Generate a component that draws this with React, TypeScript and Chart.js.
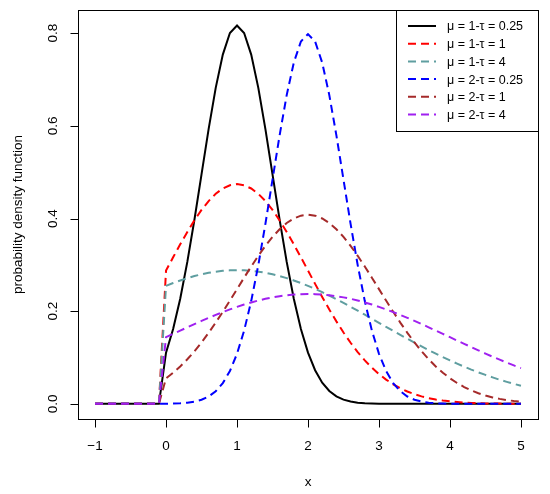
import React, { useEffect, useRef } from "react";
import { Chart, registerables } from "chart.js";

Chart.register(...registerables);

const xValues = [
  -1, -0.9, -0.8, -0.7, -0.6, -0.5, -0.4, -0.3, -0.2, -0.1,
  0, 0.1, 0.2, 0.3, 0.4, 0.5, 0.6, 0.7, 0.8, 0.9,
  1, 1.1, 1.2, 1.3, 1.4, 1.5, 1.6, 1.7, 1.8, 1.9,
  2, 2.1, 2.2, 2.3, 2.4, 2.5, 2.6, 2.7, 2.8, 2.9,
  3, 3.1, 3.2, 3.3, 3.4, 3.5, 3.6, 3.7, 3.8, 3.9,
  4, 4.1, 4.2, 4.3, 4.4, 4.5, 4.6, 4.7, 4.8, 4.9,
  5,
];

const mu1Tau025 = [
  0, 0, 0, 0, 0, 0, 0, 0, 0, 0,
  0.1105, 0.1616, 0.227, 0.3064, 0.3974, 0.4952, 0.5929, 0.682, 0.7537, 0.8003,
  0.8165, 0.8003, 0.7537, 0.682, 0.5929, 0.4952, 0.3974, 0.3064, 0.227, 0.1616,
  0.1105, 0.0726, 0.0458, 0.0278, 0.0162, 0.0091, 0.0049, 0.0025, 0.0012, 0.0006,
  0.0003, 0.0001, 0, 0, 0, 0, 0, 0, 0, 0,
  0, 0, 0, 0, 0, 0, 0, 0, 0, 0,
  0,
];

const mu1Tau1 = [
  0, 0, 0, 0, 0, 0, 0, 0, 0, 0,
  0.2876, 0.3163, 0.3443, 0.3711, 0.3961, 0.4185, 0.4377, 0.4533, 0.4648, 0.4718,
  0.4742, 0.4718, 0.4648, 0.4533, 0.4377, 0.4185, 0.3961, 0.3711, 0.3443, 0.3163,
  0.2876, 0.2589, 0.2308, 0.2037, 0.178, 0.1539, 0.1318, 0.1118, 0.0938, 0.078,
  0.0642, 0.0523, 0.0422, 0.0337, 0.0266, 0.0208, 0.0161, 0.0124, 0.0094, 0.0071,
  0.0053, 0.0039, 0.0028, 0.002, 0.0015, 0.001, 0.0007, 0.0005, 0.0003, 0.0002,
  0.0002,
];

const mu1Tau4 = [
  0, 0, 0, 0, 0, 0, 0, 0, 0, 0,
  0.2546, 0.2607, 0.2663, 0.2713, 0.2758, 0.2796, 0.2828, 0.2853, 0.287, 0.2881,
  0.2885, 0.2881, 0.287, 0.2853, 0.2828, 0.2796, 0.2758, 0.2713, 0.2663, 0.2607,
  0.2546, 0.248, 0.241, 0.2335, 0.2258, 0.2178, 0.2095, 0.201, 0.1924, 0.1837,
  0.175, 0.1662, 0.1575, 0.1489, 0.1404, 0.1321, 0.1239, 0.116, 0.1083, 0.1008,
  0.0937, 0.0868, 0.0802, 0.0739, 0.068, 0.0624, 0.0571, 0.0521, 0.0475, 0.0431,
  0.039,
];

const mu2Tau025 = [
  0, 0, 0, 0, 0, 0, 0, 0, 0, 0,
  0.0003, 0.0006, 0.0012, 0.0025, 0.0048, 0.0089, 0.0158, 0.0272, 0.0448, 0.0709,
  0.108, 0.1579, 0.2218, 0.2995, 0.3884, 0.4839, 0.5794, 0.6664, 0.7365, 0.7821,
  0.7979, 0.7821, 0.7365, 0.6664, 0.5794, 0.4839, 0.3884, 0.2995, 0.2218, 0.1579,
  0.108, 0.0709, 0.0448, 0.0272, 0.0158, 0.0089, 0.0048, 0.0025, 0.0012, 0.0006,
  0.0003, 0.0001, 0, 0, 0, 0, 0, 0, 0, 0,
  0,
];

const mu2Tau1 = [
  0, 0, 0, 0, 0, 0, 0, 0, 0, 0,
  0.0552, 0.0671, 0.0808, 0.0962, 0.1135, 0.1325, 0.1532, 0.1754, 0.1987, 0.2229,
  0.2476, 0.2723, 0.2964, 0.3195, 0.341, 0.3603, 0.3768, 0.3903, 0.4001, 0.4062,
  0.4082, 0.4062, 0.4001, 0.3903, 0.3768, 0.3603, 0.341, 0.3195, 0.2964, 0.2723,
  0.2476, 0.2229, 0.1987, 0.1754, 0.1532, 0.1325, 0.1135, 0.0962, 0.0808, 0.0671,
  0.0552, 0.045, 0.0363, 0.029, 0.0229, 0.0179, 0.0139, 0.0107, 0.0081, 0.0061,
  0.0045,
];

const mu2Tau4 = [
  0, 0, 0, 0, 0, 0, 0, 0, 0, 0,
  0.1438, 0.151, 0.1581, 0.1652, 0.1722, 0.179, 0.1856, 0.1919, 0.198, 0.2038,
  0.2092, 0.2143, 0.2189, 0.223, 0.2267, 0.2298, 0.2324, 0.2344, 0.2359, 0.2368,
  0.2371, 0.2368, 0.2359, 0.2344, 0.2324, 0.2298, 0.2267, 0.223, 0.2189, 0.2143,
  0.2092, 0.2038, 0.198, 0.1919, 0.1856, 0.179, 0.1722, 0.1652, 0.1581, 0.151,
  0.1438, 0.1366, 0.1295, 0.1224, 0.1154, 0.1085, 0.1018, 0.0953, 0.089, 0.0829,
  0.077,
];

const seriesLabels = [
  "μ = 1-τ = 0.25",
  "μ = 1-τ = 1",
  "μ = 1-τ = 4",
  "μ = 2-τ = 0.25",
  "μ = 2-τ = 1",
  "μ = 2-τ = 4",
];
const seriesValues = [mu1Tau025, mu1Tau1, mu1Tau4, mu2Tau025, mu2Tau1, mu2Tau4];
const seriesColors = ["#000000", "#FF0000", "#5F9EA0", "#0000FF", "#A52A2A", "#A020F0"];
const seriesDashed = [false, true, true, true, true, true];

const xTicks = [-1, 0, 1, 2, 3, 4, 5];
const xTickLabels = ["\u22121", "0", "1", "2", "3", "4", "5"];
const yTicks = [0, 0.2, 0.4, 0.6, 0.8];
const yTickLabels = ["0.0", "0.2", "0.4", "0.6", "0.8"];
const xTitle = "x";
const yTitle = "probability density function";

const FONT = "'Liberation Sans', Arial, sans-serif";
const DASH = [8, 5];

const decorPlugin = {
  id: "rDecor",
  afterDraw(chart: any) {
    const { ctx, chartArea } = chart;
    const xs = chart.scales.x;
    const ys = chart.scales.y;
    const L = Math.round(chartArea.left) + 0.5;
    const R = Math.round(chartArea.right) + 0.5;
    const T = Math.round(chartArea.top) + 0.5;
    const B = Math.round(chartArea.bottom) + 0.5;
    ctx.save();
    ctx.strokeStyle = "#000";
    ctx.lineWidth = 1;
    ctx.setLineDash([]);
    ctx.strokeRect(L, T, R - L, B - T);

    ctx.beginPath();
    xTicks.forEach((v) => {
      const px = Math.round(xs.getPixelForValue(v)) + 0.5;
      ctx.moveTo(px, B);
      ctx.lineTo(px, B + 8);
    });
    yTicks.forEach((v) => {
      const py = Math.round(ys.getPixelForValue(v)) + 0.5;
      ctx.moveTo(L, py);
      ctx.lineTo(L - 8, py);
    });
    ctx.stroke();

    ctx.fillStyle = "#000";
    ctx.font = `13.5px ${FONT}`;
    ctx.textAlign = "center";
    ctx.textBaseline = "middle";
    xTicks.forEach((v, i) => {
      const px = xs.getPixelForValue(v);
      ctx.fillText(xTickLabels[i], px, 446);
    });
    yTicks.forEach((v, i) => {
      const py = ys.getPixelForValue(v);
      ctx.save();
      ctx.translate(53, py);
      ctx.rotate(-Math.PI / 2);
      ctx.fillText(yTickLabels[i], 0, 0);
      ctx.restore();
    });
    ctx.fillText(xTitle, (chartArea.left + chartArea.right) / 2, 482);
    ctx.save();
    ctx.translate(18, (chartArea.top + chartArea.bottom) / 2);
    ctx.rotate(-Math.PI / 2);
    ctx.fillText(yTitle, 0, 0);
    ctx.restore();

    // legend
    const lx = 396.5;
    const ly = T;
    const lw = R - lx;
    const lh = 121;
    ctx.fillStyle = "#fff";
    ctx.fillRect(lx, ly, lw, lh);
    ctx.strokeStyle = "#000";
    ctx.lineWidth = 1;
    ctx.strokeRect(lx, ly, lw, lh);
    ctx.font = `12.5px ${FONT}`;
    ctx.textAlign = "left";
    ctx.textBaseline = "middle";
    seriesLabels.forEach((lab, i) => {
      const ry = 26 + i * 17.7;
      ctx.strokeStyle = seriesColors[i];
      ctx.lineWidth = 2;
      ctx.setLineDash(seriesDashed[i] ? DASH : []);
      ctx.beginPath();
      ctx.moveTo(408, ry);
      ctx.lineTo(436, ry);
      ctx.stroke();
      ctx.setLineDash([]);
      ctx.fillStyle = "#000";
      ctx.fillText(lab, 447, ry + 1);
    });
    ctx.restore();
  },
};

export default function App() {
  const ref = useRef<HTMLCanvasElement | null>(null);
  useEffect(() => {
    document.body.style.margin = "0";
    if (!ref.current) return;
    const datasets = seriesValues.map((vals, i) => ({
      label: seriesLabels[i],
      data: xValues.map((x, j) => ({ x, y: vals[j] })),
      borderColor: seriesColors[i],
      backgroundColor: seriesColors[i],
      borderWidth: 2,
      borderDash: seriesDashed[i] ? DASH : [],
      pointRadius: 0,
      tension: 0,
      fill: false,
      order: seriesValues.length - 1 - i,
    }));
    const chart = new Chart(ref.current, {
      type: "line",
      data: { datasets },
      options: {
        animation: false,
        responsive: false,
        devicePixelRatio: 1,
        layout: { padding: { left: 78, right: 12, top: 10, bottom: 75 } },
        plugins: { legend: { display: false }, tooltip: { enabled: false } },
        scales: {
          x: { type: "linear", min: -1.24, max: 5.24, display: false },
          y: { type: "linear", min: -0.0327, max: 0.85, display: false },
        },
      },
      plugins: [decorPlugin],
    });
    return () => chart.destroy();
  }, []);
  return (
    <div style={{ position: "absolute", left: 0, top: 0, width: 550, height: 494, background: "#fff" }}>
      <canvas ref={ref} width={550} height={494} style={{ width: 550, height: 494 }} />
    </div>
  );
}
